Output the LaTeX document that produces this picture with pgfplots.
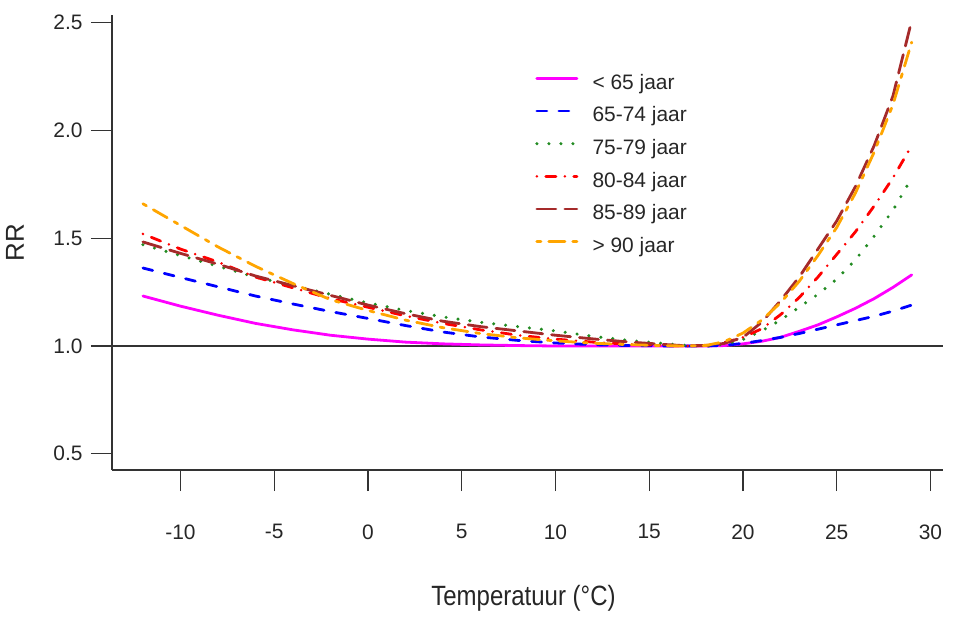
\documentclass[border=0pt]{standalone}
\usepackage{fontspec}
\setmainfont{Liberation Sans}
\usepackage{graphicx}
\usepackage{pgfplots}
\pgfplotsset{compat=1.18}

\definecolor{cMag}{HTML}{FF00FF}
\definecolor{cBlue}{HTML}{0000FF}
\definecolor{cGreen}{HTML}{228B22}
\definecolor{cRed}{HTML}{FF0000}
\definecolor{cBrown}{HTML}{A52A2A}
\definecolor{cOrange}{HTML}{FFA500}
\definecolor{axisgray}{HTML}{333333}

% Relative risk by temperature, per age group
\pgfplotstableread{
T RR
-12 1.232
-10 1.185
-8 1.143
-6 1.105
-4 1.075
-2 1.050
0 1.032
2 1.018
4 1.010
6 1.005
8 1.002
10 1.000
12 1.000
14 1.000
16 1.000
18 1.000
19 1.002
20 1.010
21 1.022
22 1.040
23 1.068
24 1.098
25 1.135
26 1.175
27 1.220
28 1.272
29 1.330
}\tabA
\pgfplotstableread{
T RR
-12 1.362
-10 1.318
-8 1.275
-6 1.232
-4 1.195
-2 1.160
0 1.128
2 1.095
4 1.065
6 1.042
8 1.026
10 1.014
12 1.006
14 1.002
16 1.000
18 1.000
19 1.003
20 1.012
21 1.025
22 1.040
23 1.058
24 1.078
25 1.098
26 1.118
27 1.138
28 1.162
29 1.190
}\tabB
\pgfplotstableread{
T RR
-12 1.470
-10 1.420
-8 1.370
-6 1.320
-4 1.280
-2 1.240
0 1.200
2 1.165
4 1.135
6 1.110
8 1.090
10 1.070
12 1.045
14 1.025
16 1.010
17 1.002
18 1.000
19 1.008
20 1.030
21 1.070
22 1.120
23 1.180
24 1.240
25 1.310
26 1.400
27 1.510
28 1.630
29 1.780
}\tabC
\pgfplotstableread{
T RR
-12 1.520
-10 1.450
-8 1.390
-6 1.320
-4 1.270
-2 1.220
0 1.180
2 1.140
4 1.105
6 1.075
8 1.050
10 1.032
12 1.018
14 1.008
16 1.002
17 1.000
18 1.003
19 1.015
20 1.040
21 1.080
22 1.145
23 1.225
24 1.320
25 1.425
26 1.530
27 1.650
28 1.780
29 1.930
}\tabD
\pgfplotstableread{
T RR
-12 1.483
-10 1.430
-8 1.380
-6 1.325
-4 1.280
-2 1.235
0 1.190
2 1.150
4 1.115
6 1.090
8 1.070
10 1.050
12 1.033
14 1.018
16 1.006
17 1.001
18 1.002
19 1.012
20 1.040
21 1.110
22 1.210
23 1.320
24 1.450
25 1.580
26 1.740
27 1.930
28 2.160
29 2.510
}\tabE
\pgfplotstableread{
T RR
-12 1.660
-10 1.560
-8 1.460
-6 1.370
-4 1.290
-2 1.215
0 1.165
2 1.120
4 1.085
6 1.058
8 1.038
10 1.024
12 1.013
14 1.006
16 1.001
17 1.000
18 1.002
19 1.020
20 1.060
21 1.120
22 1.200
23 1.300
24 1.420
25 1.550
26 1.710
27 1.900
28 2.120
29 2.410
}\tabF

\begin{document}
\begin{tikzpicture}
\useasboundingbox (-112bp,-153bp) rectangle (858bp,470bp);
\begin{axis}[
  at={(0,0)}, anchor=south west,
  scale only axis,
  width=831bp, height=455bp,
  xmin=-13.65, xmax=30.67,
  ymin=0.4246, ymax=2.536,
  axis x line*=bottom, axis y line*=left,
  axis line style={-, line width=1.5bp, color=axisgray},
  tick style={line width=1.3bp, color=axisgray},
  tick align=outside,
  major tick length=21bp,
  xtick={-10,-5,...,30},
  ytick={0.5,1.0,1.5,2.0,2.5},
  /pgf/number format/assume math mode=true,
  tick label style={font=\fontsize{21}{24}\selectfont, color=black!85},
  yticklabel style={anchor=east, xshift=-5bp, /pgf/number format/.cd, fixed, fixed zerofill, precision=1},
  xticklabel style={anchor=north, yshift=-30bp},
  ylabel={RR},
  ylabel style={at={(axis description cs:-0.1167,0.5)}, anchor=center, font=\fontsize{26}{28}\selectfont, color=black!85},
  xlabel={\scalebox{0.86}[1]{Temperatuur (°C)}},
  xlabel style={at={(axis description cs:0.5,0)}, anchor=base, yshift=-135bp, xshift=-4bp, font=\fontsize{28}{30}\selectfont, color=black!85},
  legend style={draw=none, fill=none, at={(0.509,0.875)}, anchor=north west,
    inner sep=0pt, row sep=12bp, column sep=12bp,
    font=\fontsize{21}{24}\selectfont, text=black!85},
  legend cell align=left,
  legend image code/.code={\draw[#1] (0bp,4bp) -- (40bp,4bp);},
  every axis plot/.append style={line width=2.8bp, line cap=round},
]
\addplot[line width=1.5bp, color=axisgray, forget plot, line cap=butt] coordinates {(-13.65,1) (30.67,1)};
\addplot[cMag, solid] table {\tabA};
\addlegendentry{< 65 jaar}
\addplot[cBlue, dash pattern=on 10bp off 12bp] table {\tabB};
\addlegendentry{65-74 jaar}
\addplot[cGreen, line width=3.4bp, dash pattern=on 0bp off 12bp] table {\tabC};
\addlegendentry{75-79 jaar}
\addplot[cRed, dash pattern=on 0bp off 9bp on 10bp off 9bp] table {\tabD};
\addlegendentry{80-84 jaar}
\addplot[cBrown, dash pattern=on 19bp off 9bp] table {\tabE};
\addlegendentry{85-89 jaar}
\addplot[cOrange, dash pattern=on 4bp off 8bp on 16bp off 8bp] table {\tabF};
\addlegendentry{> 90 jaar}
\end{axis}
\end{tikzpicture}
\end{document}
